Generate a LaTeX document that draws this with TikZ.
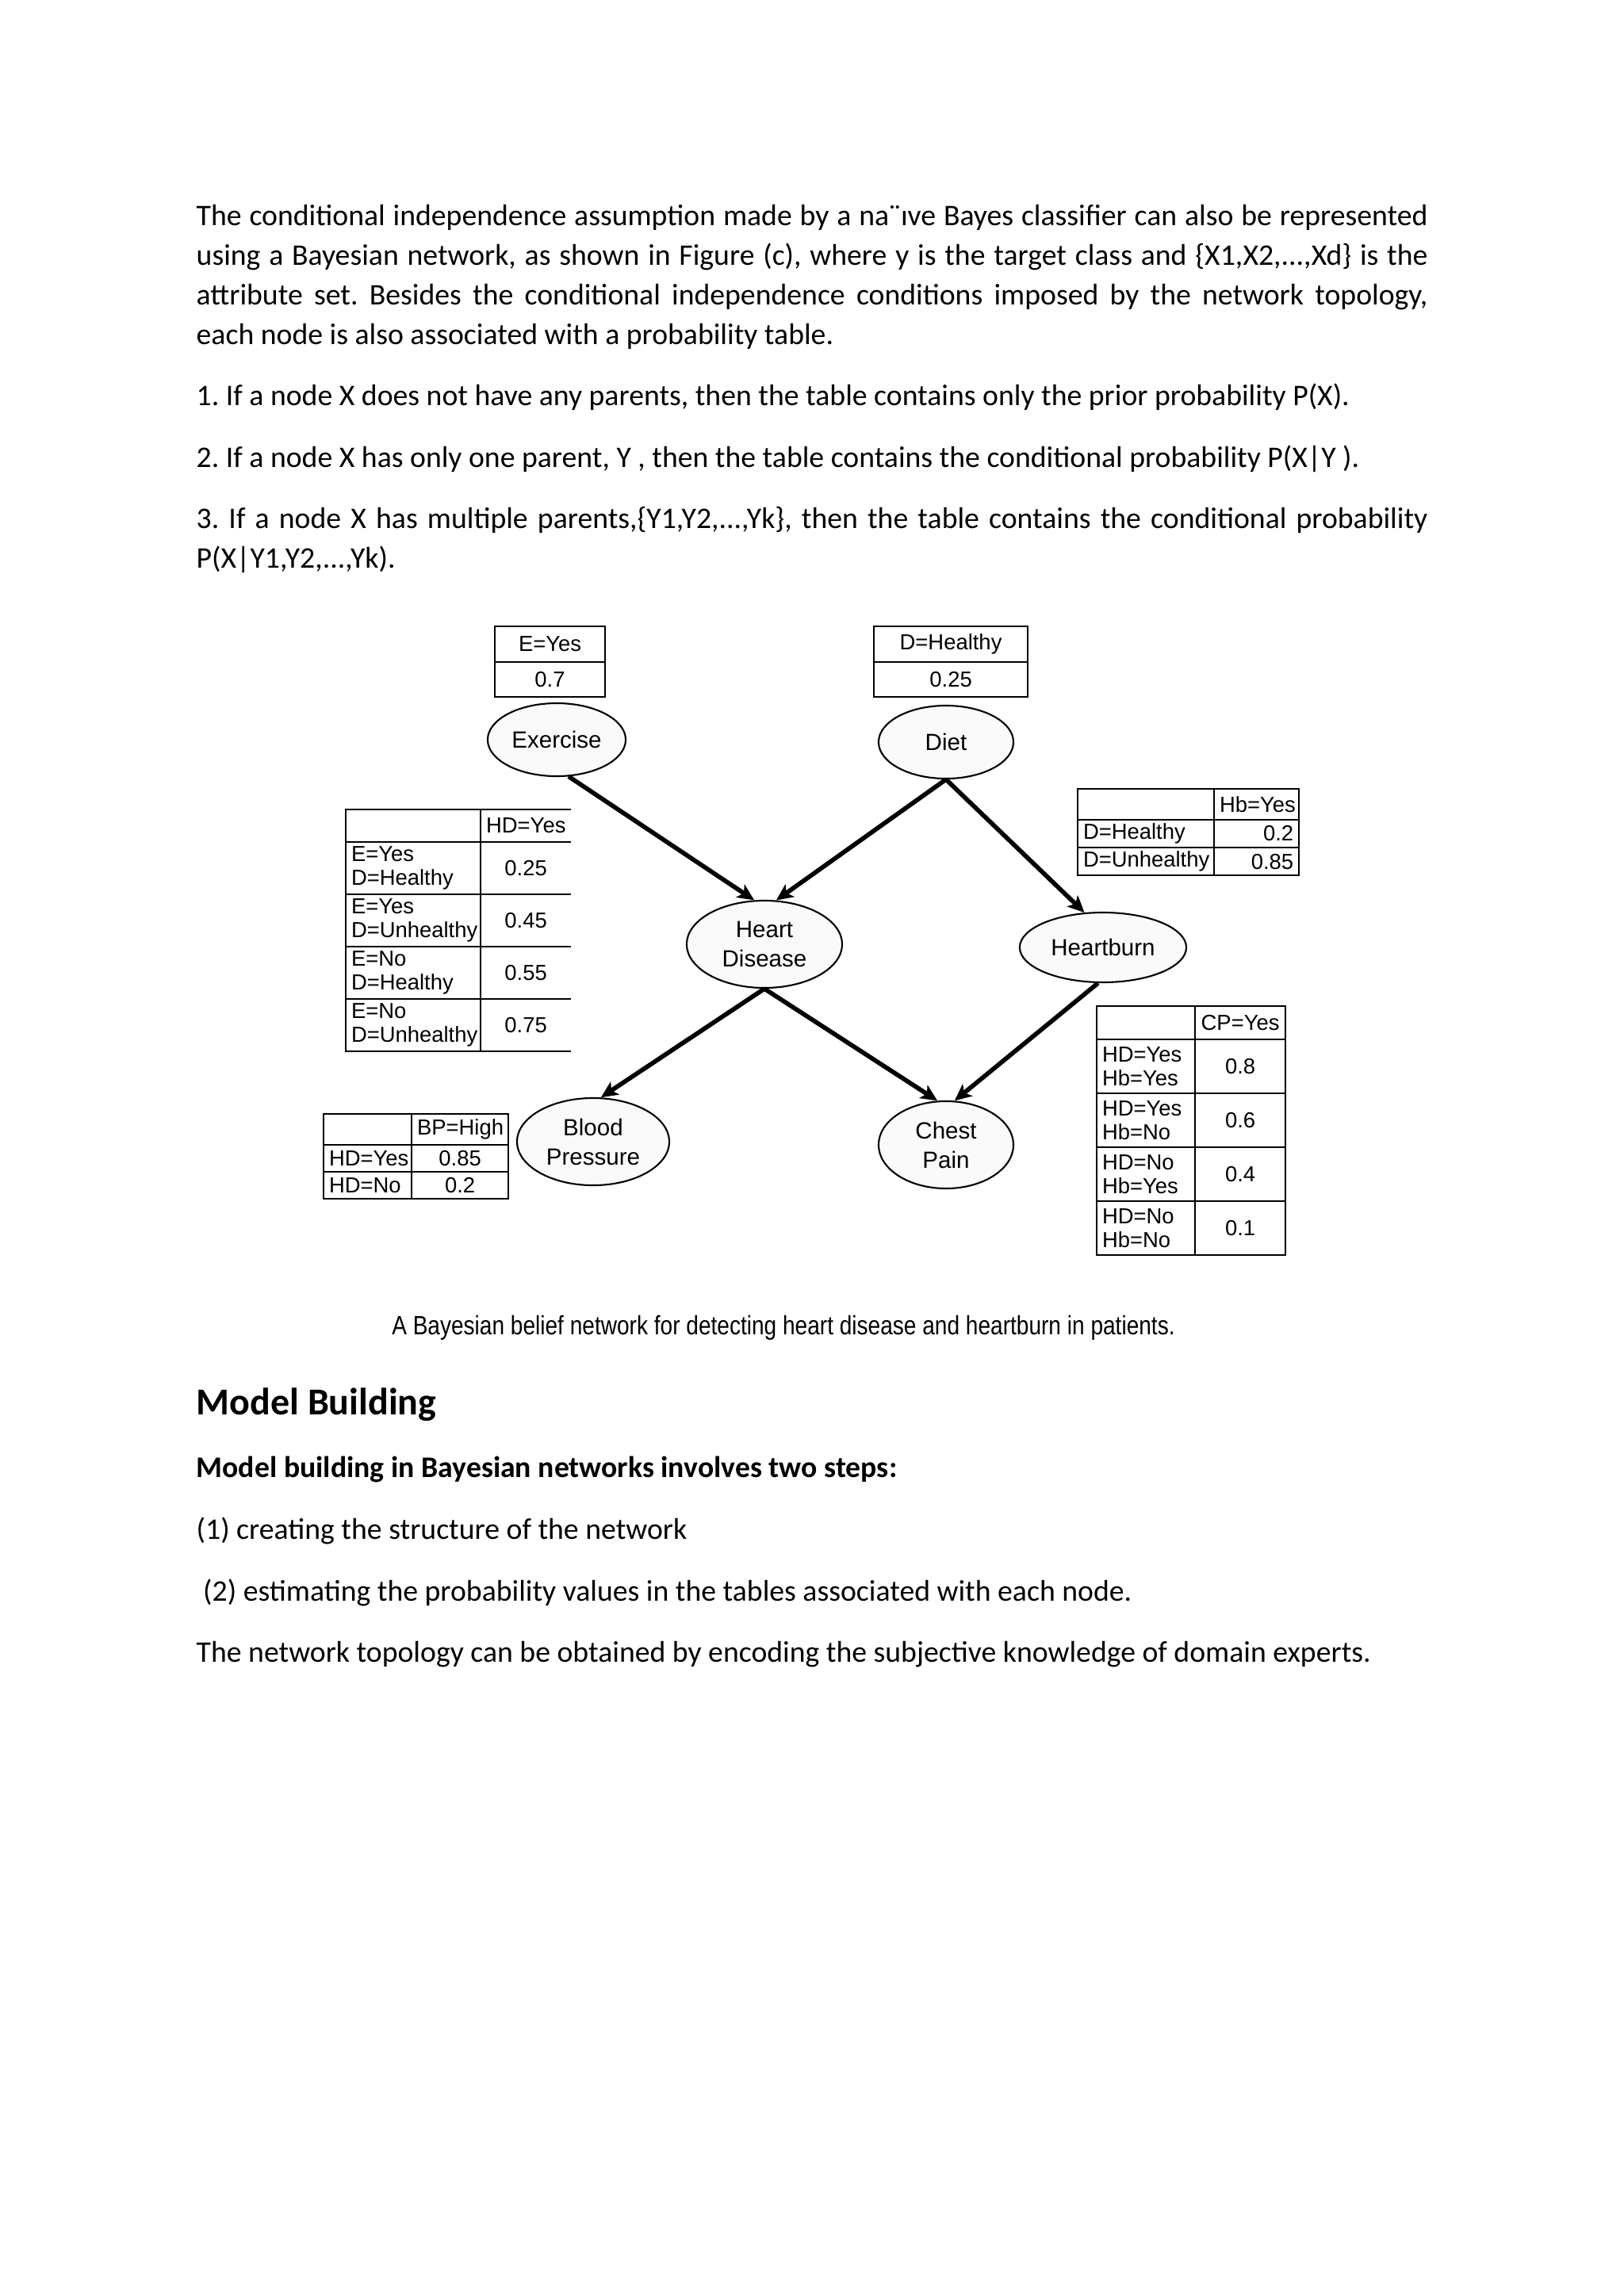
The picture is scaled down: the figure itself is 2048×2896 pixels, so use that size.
\documentclass[tikz,border=0pt]{standalone}
\usepackage{fontspec}
\setmainfont{Carlito}
\newfontfamily\helv{Liberation Sans}
\newfontfamily\helvstretta[FakeStretch=0.84]{Liberation Sans}
\usetikzlibrary{positioning}
\usetikzlibrary{shapes.geometric}
\usetikzlibrary{arrows.meta}
\frenchspacing

\newcommand{\corpo}{\fontsize{10.73}{14}\selectfont}
\newcommand{\titolo}{\fontsize{13.65}{16}\selectfont\bfseries}
\newcommand{\nodofont}{\helv\fontsize{8.4}{10.5}\selectfont}
\newcommand{\tabfont}{\helv\fontsize{7.8}{8.5}\selectfont}
\newcommand{\didafont}{\helvstretta\fontsize{9.5}{11}\selectfont}
\newcommand{\giust}[1]{\makebox[15.52cm][s]{#1}}

\begin{document}
\begin{tikzpicture}[
    x=0.01cm, y=-0.01cm,
    riga/.style={anchor=base west, inner sep=0pt, font=\corpo},
    nodo/.style={ellipse, draw, line width=0.6pt, fill=black!2, inner sep=0pt, align=center, font=\nodofont},
    cella/.style={draw, line width=0.5pt, inner xsep=0.07cm, inner ysep=0pt, outer sep=0pt, font=\tabfont},
    vuota/.style={cella, draw=none},
    linea/.style={line width=0.5pt},
    freccia/.style={-{Stealth[length=6pt,width=5.5pt,inset=1.5pt]}, line width=1.6pt}]

    \useasboundingbox[fill=white] (0,0) rectangle (2048,2896);

    % Testo iniziale
    \node[riga] (p1) at (247,284) {\giust{The conditional independence assumption made by a na¨ıve Bayes classifier can also be represented}};
    \node[riga] (p2) at (247,334) {\giust{using a Bayesian network, as shown in Figure (c), where y is the target class and \{X1,X2,...,Xd\} is the}};
    \node[riga] (p3) at (247,384) {\giust{attribute set. Besides the conditional independence conditions imposed by the network topology,}};
    \node[riga] (p4) at (247,434) {each node is also associated with a probability table.};
    \node[riga] (r1) at (247,511) {1. If a node X does not have any parents, then the table contains only the prior probability P(X).};
    \node[riga] (r2) at (247,589) {2. If a node X has only one parent, Y , then the table contains the conditional probability P(X|Y ).};
    \node[riga] (r3) at (247,666) {\giust{3. If a node X has multiple parents,\{Y1,Y2,...,Yk\}, then the table contains the conditional probability}};
    \node[riga] (r3b) at (247,716) {P(X|Y1,Y2,...,Yk).};

    % Nodi della rete
    \node[nodo, minimum width=1.74cm, minimum height=0.92cm] (ex) at (702,933) {Exercise};
    \node[nodo, minimum width=1.70cm, minimum height=0.92cm] (diet) at (1193,936) {Diet};
    \node[nodo, minimum width=1.96cm, minimum height=1.10cm] (hd) at (964,1191) {Heart\\Disease};
    \node[nodo, minimum width=2.10cm, minimum height=0.88cm] (hb) at (1391,1195) {Heartburn};
    \node[nodo, minimum width=1.92cm, minimum height=1.10cm] (bp) at (748,1440) {Blood\\Pressure};
    \node[nodo, minimum width=1.70cm, minimum height=1.10cm] (cp) at (1193,1444) {Chest\\Pain};

    % Archi
    \draw[freccia] (ex.-72) -- (hd.103);
    \draw[freccia] (diet.south) -- (hd.75);
    \draw[freccia] (diet.south) -- (hb.118);
    \draw[freccia] (hd.south) -- (bp.80);
    \draw[freccia] (hd.south) -- (cp.101);
    \draw[freccia] (hb.-98) -- (cp.79);

    % Tabelle senza genitori
    \node[cella, anchor=north west, text width=1.25cm, align=center, minimum height=0.45cm] (exT0) at (624,790) {E=Yes};
    \node[cella, below=0pt of exT0, text width=1.25cm, align=center, minimum height=0.44cm] (exT1) {0.7};
    \node[cella, anchor=north west, text width=1.80cm, align=center, minimum height=0.45cm] (dtT0) at (1102,790) {D=Healthy};
    \node[cella, below=0pt of dtT0, text width=1.80cm, align=center, minimum height=0.44cm] (dtT1) {0.25};

    % Tabella Heart Disease (aperta a destra)
    \node[cella, anchor=north west, text width=1.56cm, align=left, minimum height=0.41cm] (hdL0) at (436,1021) {};
    \node[vuota, right=0pt of hdL0, text width=1.00cm, align=center, minimum height=0.41cm] (hdR0) {HD=Yes};
    \foreach \a/\b [count=\n, remember=\n as \m (initially 0)] in
        {{E=Yes\\D=Healthy}/0.25, {E=Yes\\D=Unhealthy}/0.45, {E=No\\D=Healthy}/0.55, {E=No\\D=Unhealthy}/0.75} {
      \node[cella, below=0pt of hdL\m, text width=1.56cm, align=left, minimum height=0.66cm] (hdL\n) {\a};
      \node[vuota, right=0pt of hdL\n, text width=1.00cm, align=center, minimum height=0.66cm] (hdR\n) {\b};
    }
    \foreach \r in {0,...,4}
      \draw[linea] (hdL\r.north east) -- ++(114,0);
    \draw[linea] (hdL4.south east) -- ++(114,0);

    % Tabella Heartburn
    \node[cella, anchor=north west, text width=1.58cm, align=left, minimum height=0.39cm] (hbL0) at (1359,995) {};
    \node[cella, right=0pt of hbL0, text width=0.93cm, align=right, minimum height=0.39cm] (hbR0) {Hb=Yes};
    \node[cella, below=0pt of hbL0, text width=1.58cm, align=left, minimum height=0.35cm] (hbL1) {D=Healthy};
    \node[cella, right=0pt of hbL1, text width=0.93cm, align=right, minimum height=0.35cm] (hbR1) {0.2};
    \node[cella, below=0pt of hbL1, text width=1.58cm, align=left, minimum height=0.35cm] (hbL2) {D=Unhealthy};
    \node[cella, right=0pt of hbL2, text width=0.93cm, align=right, minimum height=0.35cm] (hbR2) {0.85};

    % Tabella Chest Pain
    \node[cella, anchor=north west, text width=1.10cm, align=left, minimum height=0.42cm] (cpL0) at (1383,1269) {};
    \node[cella, right=0pt of cpL0, text width=1.00cm, align=center, minimum height=0.42cm] (cpR0) {CP=Yes};
    \foreach \a/\b [count=\n, remember=\n as \m (initially 0)] in
        {{HD=Yes\\Hb=Yes}/0.8, {HD=Yes\\Hb=No}/0.6, {HD=No\\Hb=Yes}/0.4, {HD=No\\Hb=No}/0.1} {
      \node[cella, below=0pt of cpL\m, text width=1.10cm, align=left, minimum height=0.68cm] (cpL\n) {\a};
      \node[cella, right=0pt of cpL\n, text width=1.00cm, align=center, minimum height=0.68cm] (cpR\n) {\b};
    }

    % Tabella Blood Pressure
    \node[cella, anchor=north west, text width=0.97cm, align=left, minimum height=0.39cm] (bpL0) at (408,1405) {};
    \node[cella, right=0pt of bpL0, text width=1.08cm, align=center, minimum height=0.39cm] (bpR0) {BP=High};
    \node[cella, below=0pt of bpL0, text width=0.97cm, align=left, minimum height=0.34cm] (bpL1) {HD=Yes};
    \node[cella, right=0pt of bpL1, text width=1.08cm, align=center, minimum height=0.34cm] (bpR1) {0.85};
    \node[cella, below=0pt of bpL1, text width=0.97cm, align=left, minimum height=0.34cm] (bpL2) {HD=No};
    \node[cella, right=0pt of bpL2, text width=1.08cm, align=center, minimum height=0.34cm] (bpR2) {0.2};

    % Didascalia
    \node[anchor=base, inner sep=0pt, font=\didafont] (dida) at (988,1683) {A Bayesian belief network for detecting heart disease and heartburn in patients.};

    % Seconda parte
    \node[riga, font=\titolo] (tit) at (247,1784) {Model Building};
    \node[riga, font=\corpo\bfseries] (s0) at (247,1863) {Model building in Bayesian networks involves two steps:};
    \node[riga] (s1) at (247,1941) {(1) creating the structure of the network};
    \node[riga] (s2) at (247,2019) {\ (2) estimating the probability values in the tables associated with each node.};
    \node[riga] (s3) at (247,2096) {The network topology can be obtained by encoding the subjective knowledge of domain experts.};
\end{tikzpicture}
\end{document}
